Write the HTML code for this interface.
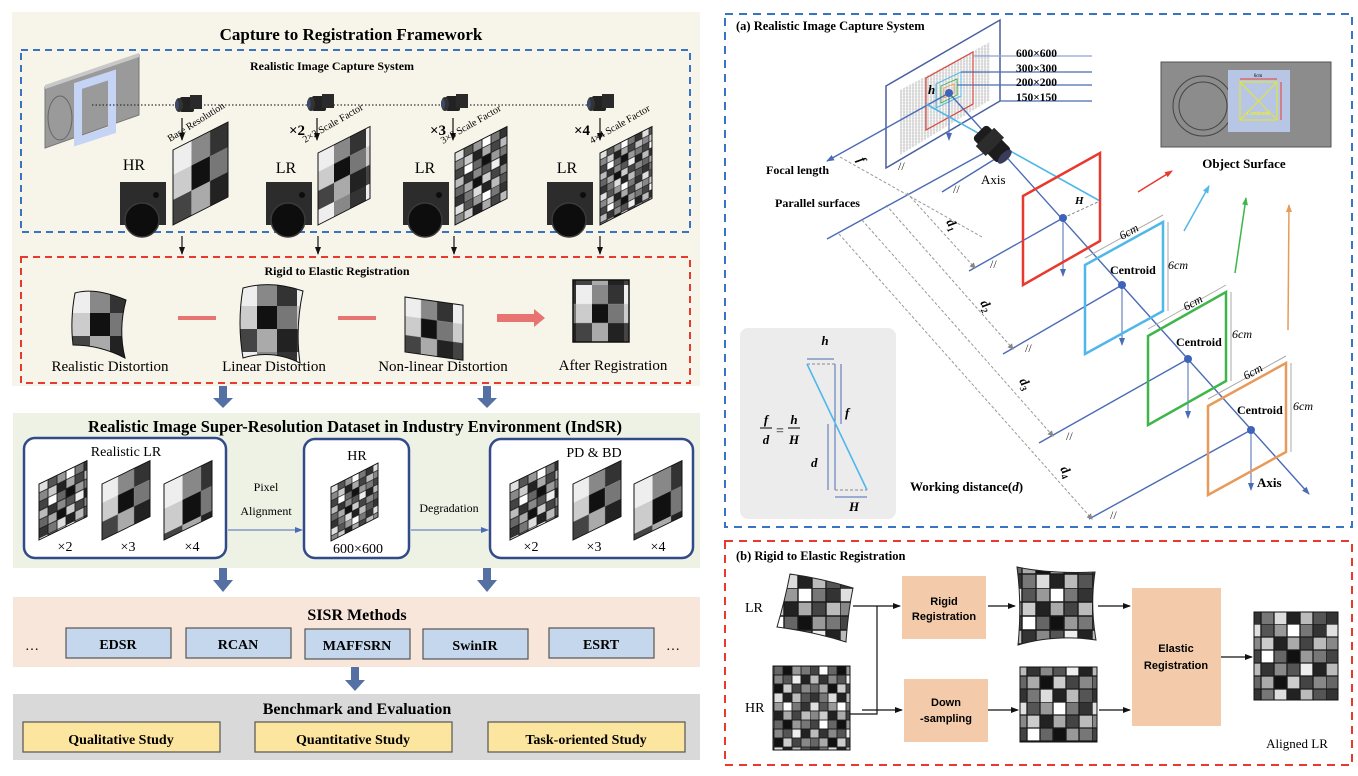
<!DOCTYPE html>
<html><head><meta charset="utf-8"><style>
html,body{margin:0;padding:0;background:#fff}
svg{display:block;font-family:"Liberation Serif",serif}
.b{font-weight:bold}
</style></head><body>
<svg width="1358" height="776" viewBox="0 0 1358 776" xmlns="http://www.w3.org/2000/svg">
<defs>
<g id="t6">
<rect x="0" y="0" width="10" height="10" fill="#e0e0e0"/><rect x="10" y="0" width="10" height="10" fill="#555"/><rect x="20" y="0" width="10" height="10" fill="#999"/><rect x="30" y="0" width="10" height="10" fill="#fff"/><rect x="40" y="0" width="10" height="10" fill="#777"/><rect x="50" y="0" width="10" height="10" fill="#333"/>
<rect x="0" y="10" width="10" height="10" fill="#888"/><rect x="10" y="10" width="10" height="10" fill="#ccc"/><rect x="20" y="10" width="10" height="10" fill="#222"/><rect x="30" y="10" width="10" height="10" fill="#aaa"/><rect x="40" y="10" width="10" height="10" fill="#444"/><rect x="50" y="10" width="10" height="10" fill="#bbb"/>
<rect x="0" y="20" width="10" height="10" fill="#444"/><rect x="10" y="20" width="10" height="10" fill="#fff"/><rect x="20" y="20" width="10" height="10" fill="#666"/><rect x="30" y="20" width="10" height="10" fill="#111"/><rect x="40" y="20" width="10" height="10" fill="#999"/><rect x="50" y="20" width="10" height="10" fill="#777"/>
<rect x="0" y="30" width="10" height="10" fill="#bbb"/><rect x="10" y="30" width="10" height="10" fill="#333"/><rect x="20" y="30" width="10" height="10" fill="#888"/><rect x="30" y="30" width="10" height="10" fill="#555"/><rect x="40" y="30" width="10" height="10" fill="#eee"/><rect x="50" y="30" width="10" height="10" fill="#222"/>
<rect x="0" y="40" width="10" height="10" fill="#666"/><rect x="10" y="40" width="10" height="10" fill="#aaa"/><rect x="20" y="40" width="10" height="10" fill="#111"/><rect x="30" y="40" width="10" height="10" fill="#ccc"/><rect x="40" y="40" width="10" height="10" fill="#444"/><rect x="50" y="40" width="10" height="10" fill="#888"/>
<rect x="0" y="50" width="10" height="10" fill="#333"/><rect x="10" y="50" width="10" height="10" fill="#777"/><rect x="20" y="50" width="10" height="10" fill="#ddd"/><rect x="30" y="50" width="10" height="10" fill="#222"/><rect x="40" y="50" width="10" height="10" fill="#bbb"/><rect x="50" y="50" width="10" height="10" fill="#555"/>
<path d="M0 0V60M10 0V60M20 0V60M30 0V60M40 0V60M50 0V60M0 0H60M0 10H60M0 20H60M0 30H60M0 40H60M0 50H60" stroke="#1a1a1a" stroke-width="1"/>
</g>
<g id="t3">
<rect x="0" y="0" width="10" height="10" fill="#eee"/><rect x="10" y="0" width="10" height="10" fill="#888"/><rect x="20" y="0" width="10" height="10" fill="#333"/>
<rect x="0" y="10" width="10" height="10" fill="#ccc"/><rect x="10" y="10" width="10" height="10" fill="#111"/><rect x="20" y="10" width="10" height="10" fill="#777"/>
<rect x="0" y="20" width="10" height="10" fill="#444"/><rect x="10" y="20" width="10" height="10" fill="#aaa"/><rect x="20" y="20" width="10" height="10" fill="#222"/>
</g>
<pattern id="pf" patternUnits="userSpaceOnUse" width="60" height="60" patternTransform="scale(0.7)"><use href="#t6"/></pattern>
<pattern id="pm" patternUnits="userSpaceOnUse" width="60" height="60" patternTransform="scale(1.3)"><use href="#t6"/></pattern>
<pattern id="pl" patternUnits="userSpaceOnUse" width="60" height="60" patternTransform="scale(1.4)"><use href="#t6"/></pattern>
<pattern id="ps" patternUnits="userSpaceOnUse" width="60" height="60" patternTransform="scale(0.9)"><use href="#t6"/></pattern>
<pattern id="c1" patternUnits="userSpaceOnUse" width="30" height="30" patternTransform="scale(1.85,2.5)"><use href="#t3"/></pattern>
<pattern id="c2" patternUnits="userSpaceOnUse" width="30" height="30" patternTransform="scale(1.6,1.9)"><use href="#t3"/></pattern>
<pattern id="c3" patternUnits="userSpaceOnUse" width="30" height="30" patternTransform="scale(2.0,2.3)"><use href="#t3"/></pattern>
<pattern id="grid" patternUnits="userSpaceOnUse" width="3" height="3"><path d="M1 0V3" stroke="#999" stroke-width="0.6"/><path d="M0 1H3" stroke="#bbb" stroke-width="0.4"/></pattern>
<marker id="ak" markerWidth="8" markerHeight="8" refX="7" refY="4" orient="auto" markerUnits="userSpaceOnUse"><path d="M0 1L8 4L0 7z" fill="#111"/></marker>
<marker id="ab" markerWidth="8" markerHeight="8" refX="7" refY="4" orient="auto" markerUnits="userSpaceOnUse"><path d="M0 1L8 4L0 7z" fill="#4a6bb5"/></marker>
<marker id="ar" markerWidth="8" markerHeight="8" refX="7" refY="4" orient="auto" markerUnits="userSpaceOnUse"><path d="M0 1L8 4L0 7z" fill="#e8392e"/></marker>
<marker id="ac" markerWidth="8" markerHeight="8" refX="7" refY="4" orient="auto" markerUnits="userSpaceOnUse"><path d="M0 1L8 4L0 7z" fill="#4fb7ea"/></marker>
<marker id="ag" markerWidth="8" markerHeight="8" refX="7" refY="4" orient="auto" markerUnits="userSpaceOnUse"><path d="M0 1L8 4L0 7z" fill="#3fb54a"/></marker>
<marker id="ao" markerWidth="8" markerHeight="8" refX="7" refY="4" orient="auto" markerUnits="userSpaceOnUse"><path d="M0 1L8 4L0 7z" fill="#e89a5a"/></marker>
<marker id="ad" markerWidth="6" markerHeight="6" refX="5" refY="3" orient="auto" markerUnits="userSpaceOnUse"><path d="M0 0L6 3L0 6z" fill="#888"/></marker>
<g id="cam"><rect x="-6" y="-8" width="14" height="15" rx="2" fill="#222"/><rect x="4" y="-10" width="12" height="14" fill="#2a2a2a"/><ellipse cx="-7" cy="0" rx="4" ry="7" fill="#333"/><ellipse cx="-9" cy="0" rx="2" ry="5" fill="#3a4a6a"/></g>
<g id="photo"><rect width="46" height="43" fill="#2c2c2c"/><circle cx="22" cy="38" r="17" fill="#0d0d0d" stroke="#3a3a3a" stroke-width="1.5"/><circle cx="36" cy="13" r="3" fill="#0d0d0d"/></g>
</defs>

<!-- LEFT TOP PANEL -->
<rect x="12" y="12" width="688" height="374" fill="#f7f5ea"/>
<text x="351" y="40" font-size="17" class="b" text-anchor="middle">Capture to Registration Framework</text>
<rect x="21" y="50" width="669" height="182" fill="none" stroke="#3b73c4" stroke-width="2" stroke-dasharray="7,5"/>
<text x="332" y="70" font-size="12" class="b" text-anchor="middle">Realistic Image Capture System</text>
<path d="M45 87L139 55V115L45 148Z" fill="#9a9a9a" stroke="#777"/>
<path d="M45 85L139 53V57L45 89Z" fill="#c8c8c8"/>
<path d="M78 86L112 75V130L78 141Z" fill="none" stroke="#c5d4f5" stroke-width="8"/>
<ellipse cx="60" cy="118" rx="12" ry="22" fill="none" stroke="#666"/>
<line x1="92" y1="105" x2="600" y2="105" stroke="#333" stroke-width="1.3" stroke-dasharray="1.5,2"/>
<use href="#cam" x="186" y="105"/><use href="#cam" x="318" y="104"/><use href="#cam" x="452" y="104"/><use href="#cam" x="598" y="104"/>
<g stroke="#111" stroke-width="1.2">
<line x1="182" y1="118" x2="182" y2="140" marker-end="url(#ak)"/>
<line x1="317" y1="118" x2="317" y2="140" marker-end="url(#ak)"/>
<line x1="453" y1="118" x2="453" y2="140" marker-end="url(#ak)"/>
<line x1="600" y1="118" x2="600" y2="140" marker-end="url(#ak)"/>
</g>
<text x="297" y="135" font-size="15" class="b" text-anchor="middle">×2</text>
<text x="438" y="135" font-size="15" class="b" text-anchor="middle">×3</text>
<text x="582" y="135" font-size="15" class="b" text-anchor="middle">×4</text>
<text x="134" y="170" font-size="16" text-anchor="middle">HR</text>
<text x="286" y="173" font-size="16" text-anchor="middle">LR</text>
<text x="425" y="173" font-size="16" text-anchor="middle">LR</text>
<text x="567" y="173" font-size="16" text-anchor="middle">LR</text>
<use href="#photo" x="120" y="182"/><use href="#photo" x="266" y="182"/><use href="#photo" x="403" y="182"/><use href="#photo" x="547" y="182"/>
<g transform="translate(173,150) skewY(-27)"><rect width="55" height="75" fill="url(#c1)" stroke="#111"/></g>
<g transform="translate(318,153) skewY(-27)"><rect width="52" height="72" fill="url(#c2)" stroke="#111"/></g>
<g transform="translate(455,153) skewY(-27)"><rect width="52" height="72" fill="url(#ps)" stroke="#111"/></g>
<g transform="translate(600,153) skewY(-27)"><rect width="52" height="72" fill="url(#pf)" stroke="#111"/></g>
<text transform="translate(170,142) rotate(-32)" font-size="10">Base Resolution</text>
<text transform="translate(305,143) rotate(-30)" font-size="10">2×2  Scale Factor</text>
<text transform="translate(443,144) rotate(-30)" font-size="10">3×3 Scale Factor</text>
<text transform="translate(592,144) rotate(-30)" font-size="10">4×4 Scale Factor</text>
<g stroke="#111" stroke-width="1.2">
<line x1="182" y1="236" x2="182" y2="254" marker-end="url(#ak)"/>
<line x1="318" y1="236" x2="318" y2="254" marker-end="url(#ak)"/>
<line x1="454" y1="236" x2="454" y2="254" marker-end="url(#ak)"/>
<line x1="600" y1="236" x2="600" y2="254" marker-end="url(#ak)"/>
</g>
<rect x="21" y="257" width="669" height="126" fill="none" stroke="#e8392e" stroke-width="2" stroke-dasharray="7,5"/>
<text x="337" y="275" font-size="12" class="b" text-anchor="middle">Rigid to Elastic Registration</text>
<g transform="translate(70,290)"><path d="M5 3Q25 -3 56 10Q48 40 55 68Q30 55 3 55Q0 30 5 3Z" fill="url(#c3)" stroke="#111"/></g>
<g transform="translate(237,283)"><path d="M6 5Q35 -3 66 8Q58 45 63 80Q35 66 6 75Q0 40 6 5Z" fill="url(#c3)" stroke="#111"/></g>
<g transform="translate(405,297) skewY(8)"><rect width="58" height="55" fill="url(#c2)" stroke="#111"/></g>
<rect x="573" y="280" width="56" height="62" fill="url(#c2)" stroke="#111" stroke-width="1.5"/>
<rect x="178" y="316" width="38" height="4" fill="#e77470"/>
<rect x="338" y="316" width="38" height="4" fill="#e77470"/>
<path d="M497 314H534V309L545 318L534 327V322H497Z" fill="#e77470"/>
<text x="110" y="371" font-size="15" text-anchor="middle">Realistic Distortion</text>
<text x="274" y="371" font-size="15" text-anchor="middle">Linear Distortion</text>
<text x="443" y="371" font-size="15" text-anchor="middle">Non-linear Distortion</text>
<text x="613" y="370" font-size="15" text-anchor="middle">After Registration</text>

<g fill="#5570a2">
<path d="M219 386H227V398H233L223 408L213 398H219Z"/>
<path d="M483 386H491V398H497L487 408L477 398H483Z"/>
<path d="M219 568H227V580H233L223 592L213 580H219Z"/>
<path d="M483 568H491V580H497L487 592L477 580H483Z"/>
<path d="M351 667H359V680H365L355 691L345 680H351Z"/>
</g>

<!-- DATASET PANEL -->
<rect x="13" y="413" width="687" height="155" fill="#edf2e5"/>
<text x="355" y="432" font-size="16.5" class="b" text-anchor="middle">Realistic Image Super-Resolution Dataset in Industry Environment (IndSR)</text>
<rect x="24" y="438" width="202" height="120" rx="11" fill="#fff" stroke="#324a8a" stroke-width="2.5"/>
<rect x="304" y="439" width="105" height="119" rx="11" fill="#fff" stroke="#324a8a" stroke-width="2.5"/>
<rect x="490" y="439" width="203" height="119" rx="11" fill="#fff" stroke="#324a8a" stroke-width="2.5"/>
<text x="126" y="456" font-size="14" text-anchor="middle">Realistic LR</text>
<text x="357" y="460" font-size="14" text-anchor="middle">HR</text>
<text x="594" y="457" font-size="14" text-anchor="middle">PD &amp; BD</text>
<g transform="translate(39,484) skewY(-26)"><rect width="48" height="56" fill="url(#ps)" stroke="#111"/></g>
<g transform="translate(102,484) skewY(-26)"><rect width="48" height="56" fill="url(#c2)" stroke="#111"/></g>
<g transform="translate(164,484) skewY(-26)"><rect width="48" height="56" fill="url(#c1)" stroke="#111"/></g>
<g transform="translate(331,487) skewY(-27)"><rect width="47" height="54" fill="url(#pf)" stroke="#111"/></g>
<g transform="translate(510,484) skewY(-26)"><rect width="48" height="56" fill="url(#ps)" stroke="#111"/></g>
<g transform="translate(573,484) skewY(-26)"><rect width="48" height="56" fill="url(#c2)" stroke="#111"/></g>
<g transform="translate(634,484) skewY(-26)"><rect width="48" height="56" fill="url(#c1)" stroke="#111"/></g>
<g font-size="14" text-anchor="middle">
<text x="65" y="551">×2</text><text x="128" y="551">×3</text><text x="192" y="551">×4</text>
<text x="358" y="553">600×600</text>
<text x="531" y="551">×2</text><text x="594" y="551">×3</text><text x="658" y="551">×4</text>
</g>
<g font-size="12" text-anchor="middle"><text x="266" y="491">Pixel</text><text x="266" y="515">Alignment</text><text x="449" y="512">Degradation</text></g>
<line x1="228" y1="530" x2="302" y2="530" stroke="#4a6bb5" marker-end="url(#ab)"/>
<line x1="411" y1="530" x2="488" y2="530" stroke="#4a6bb5" marker-end="url(#ab)"/>

<!-- SISR -->
<rect x="13" y="597" width="687" height="70" fill="#f8e6da"/>
<text x="357" y="620" font-size="16" class="b" text-anchor="middle">SISR Methods</text>
<g fill="#c5d7ec" stroke="#555" stroke-width="1.2">
<rect x="66" y="628" width="105" height="30"/><rect x="186" y="628" width="105" height="30"/><rect x="305" y="629" width="105" height="30"/><rect x="423" y="629" width="105" height="30"/><rect x="549" y="628" width="105" height="30"/>
</g>
<g font-size="14" class="b" text-anchor="middle">
<text x="118" y="649">EDSR</text><text x="238" y="649">RCAN</text><text x="357" y="650">MAFFSRN</text><text x="475" y="650">SwinIR</text><text x="601" y="649">ESRT</text>
</g>
<text x="32" y="650" font-size="14" text-anchor="middle">…</text><text x="673" y="650" font-size="14" text-anchor="middle">…</text>

<!-- BENCHMARK -->
<rect x="13" y="694" width="687" height="66" fill="#d9d9d9"/>
<text x="357" y="714" font-size="16" class="b" text-anchor="middle">Benchmark and Evaluation</text>
<g fill="#fbe59f" stroke="#555" stroke-width="1.2">
<rect x="23" y="722" width="197" height="30"/><rect x="255" y="722" width="197" height="30"/><rect x="488" y="722" width="197" height="30"/>
</g>
<g font-size="14" class="b" text-anchor="middle">
<text x="121" y="744">Qualitative Study</text><text x="353" y="744">Quantitative Study</text><text x="586" y="744">Task-oriented Study</text>
</g>

<!-- RIGHT (a) -->
<rect x="725" y="14" width="627" height="513" fill="none" stroke="#3b73c4" stroke-width="2" stroke-dasharray="8,6"/>
<text x="736" y="30" font-size="12.5" class="b">(a) Realistic Image Capture System</text>
<path d="M886 86L1000 20V101L886 168Z" fill="#fff" stroke="#4a5f9f" stroke-width="1.5"/>
<path d="M900 90L990 42V100L900 155Z" fill="url(#grid)"/>
<path d="M926 78L973 52V104L926 130Z" fill="none" stroke="#d9453a" stroke-width="1.2"/>
<path d="M936 84L961 72V96L936 108Z" fill="none" stroke="#4fb7ea" stroke-width="1"/>
<path d="M941 86L957 79V95L941 103Z" fill="none" stroke="#3fb54a" stroke-width="0.9"/>
<path d="M944 88L954 84V93L944 98Z" fill="none" stroke="#e89a5a" stroke-width="0.8"/>
<g stroke="#4a6bb5" stroke-width="1.2">
<line x1="973" y1="56" x2="1092" y2="56" stroke="#8fa3d0"/>
<line x1="961" y1="72" x2="1092" y2="72"/>
<line x1="957" y1="85" x2="1092" y2="85"/>
<line x1="1000" y1="101" x2="1092" y2="101"/>
</g>
<g font-size="11.5" class="b"><text x="1016" y="57">600×600</text><text x="1016" y="72">300×300</text><text x="1016" y="86">200×200</text><text x="1016" y="101">150×150</text></g>
<text x="928" y="94" font-size="13" class="b" font-style="italic">h</text>
<g stroke="#4a6bb5" stroke-width="1.4" fill="none">
<line x1="949" y1="93" x2="827" y2="161" marker-end="url(#ab)"/>
<line x1="827" y1="239" x2="1004" y2="142"/>
<line x1="942" y1="192" x2="995" y2="159"/>
<line x1="949" y1="93" x2="1309" y2="494" marker-end="url(#ab)"/>
<line x1="969" y1="271" x2="1063" y2="218"/>
<line x1="1003" y1="354" x2="1122" y2="285"/>
<line x1="1039" y1="443" x2="1188" y2="359"/>
<line x1="1089" y1="519" x2="1251" y2="430"/>
<line x1="949" y1="93" x2="949" y2="140" stroke-width="1" marker-end="url(#ab)"/>
<line x1="1063" y1="218" x2="1063" y2="276" stroke-width="1" marker-end="url(#ab)"/>
<line x1="1122" y1="285" x2="1122" y2="345" stroke-width="1" marker-end="url(#ab)"/>
<line x1="1188" y1="359" x2="1188" y2="418" stroke-width="1" marker-end="url(#ab)"/>
<line x1="1251" y1="430" x2="1251" y2="490" stroke-width="1" marker-end="url(#ab)"/>
</g>
<line x1="926" y1="104" x2="1100" y2="201" stroke="#4fb7ea" stroke-width="1.6"/>
<line x1="1063" y1="218" x2="1100" y2="201" stroke="#888" stroke-dasharray="3,2"/>
<g transform="translate(992,144) rotate(45)"><rect x="-18" y="-10" width="36" height="20" rx="4" fill="#1c1c1c"/><rect x="-10" y="-13" width="14" height="26" fill="#2c2c2c"/><ellipse cx="18" cy="0" rx="4" ry="9" fill="#3a3a5a"/></g>
<path d="M1023 196L1100 153V241L1023 285Z" fill="none" stroke="#e8392e" stroke-width="2.5"/>
<path d="M1085 265L1163 222V311L1085 354Z" fill="none" stroke="#4fb7ea" stroke-width="2.5"/>
<path d="M1148 336L1226 292V381L1148 425Z" fill="none" stroke="#3fb54a" stroke-width="2.5"/>
<path d="M1208 406L1286 363V452L1208 495Z" fill="none" stroke="#e89a5a" stroke-width="2.5"/>
<g fill="#3f63b8"><circle cx="1063" cy="218" r="4"/><circle cx="1122" cy="285" r="4"/><circle cx="1188" cy="359" r="4"/><circle cx="1251" cy="430" r="4"/><circle cx="949" cy="93" r="4"/></g>
<g stroke="#aaa" stroke-width="1">
<line x1="1085" y1="258" x2="1163" y2="215"/><line x1="1168" y1="222" x2="1168" y2="311"/>
<line x1="1148" y1="329" x2="1226" y2="285"/><line x1="1231" y1="292" x2="1231" y2="381"/>
<line x1="1208" y1="399" x2="1286" y2="356"/><line x1="1291" y1="363" x2="1291" y2="452"/>
</g>
<g font-size="12" font-style="italic">
<text transform="translate(1122,240) rotate(-29)">6cm</text><text x="1168" y="269">6cm</text>
<text transform="translate(1186,311) rotate(-29)">6cm</text><text x="1232" y="338">6cm</text>
<text transform="translate(1246,380) rotate(-29)">6cm</text><text x="1293" y="410">6cm</text>
</g>
<g font-size="12" class="b"><text x="1110" y="274">Centroid</text><text x="1176" y="346">Centroid</text><text x="1237" y="414">Centroid</text></g>
<text x="1075" y="204" font-size="11" class="b" font-style="italic">H</text>
<g stroke="#999" stroke-width="1" stroke-dasharray="3,2" fill="none">
<line x1="840" y1="157" x2="982" y2="237"/>
<line x1="907" y1="193" x2="975" y2="268" marker-end="url(#ad)"/>
<line x1="886" y1="205" x2="1013" y2="349" marker-end="url(#ad)"/>
<line x1="862" y1="220" x2="1053" y2="436" marker-end="url(#ad)"/>
<line x1="839" y1="234" x2="1092" y2="519" marker-end="url(#ad)"/>
</g>
<g font-size="13" class="b" font-style="italic">
<text transform="translate(857,160) rotate(60)">f</text>
<text transform="translate(946,222) rotate(60)">d<tspan font-size="9" dy="3">1</tspan></text>
<text transform="translate(980,303) rotate(60)">d<tspan font-size="9" dy="3">2</tspan></text>
<text transform="translate(1019,381) rotate(60)">d<tspan font-size="9" dy="3">3</tspan></text>
<text transform="translate(1060,469) rotate(60)">d<tspan font-size="9" dy="3">4</tspan></text>
</g>
<g font-size="12" fill="#222"><text x="898" y="170">//</text><text x="953" y="193">//</text><text x="990" y="268">//</text><text x="1025" y="352">//</text><text x="1066" y="440">//</text><text x="1110" y="519">//</text></g>
<text x="766" y="174" font-size="12" class="b">Focal length</text>
<text x="775" y="207" font-size="12" class="b">Parallel surfaces</text>
<text x="981" y="184" font-size="13">Axis</text>
<text x="1257" y="487" font-size="13" class="b">Axis</text>
<text x="910" y="491" font-size="13" class="b">Working distance(<tspan font-style="italic">d</tspan>)</text>
<rect x="1161" y="62" width="170" height="85" fill="#8c8c8c" stroke="#555"/>
<circle cx="1203" cy="106" r="30" fill="none" stroke="#444"/>
<circle cx="1203" cy="106" r="24" fill="none" stroke="#444"/>
<rect x="1228" y="70" width="62" height="62" fill="#b8c6e6"/>
<g stroke="#e8e820" stroke-width="1"><line x1="1240" y1="82" x2="1277" y2="120"/><line x1="1277" y1="82" x2="1240" y2="120"/><path d="M1240 82H1277V120H1240Z" fill="none"/></g>
<line x1="1240" y1="79" x2="1277" y2="79" stroke="#e8392e"/><line x1="1281" y1="82" x2="1281" y2="120" stroke="#e8392e"/>
<text x="1258" y="115" font-size="6" fill="#ee2" text-anchor="middle" class="b">Centroid</text>
<text x="1258" y="77" font-size="5" text-anchor="middle">6cm</text>
<text x="1244" y="168" font-size="13" class="b" text-anchor="middle">Object Surface</text>
<line x1="1138" y1="192" x2="1172" y2="171" stroke="#e8392e" stroke-width="1.5" marker-end="url(#ar)"/>
<line x1="1184" y1="231" x2="1209" y2="186" stroke="#4fb7ea" stroke-width="1.5" marker-end="url(#ac)"/>
<line x1="1235" y1="273" x2="1246" y2="198" stroke="#3fb54a" stroke-width="1.5" marker-end="url(#ag)"/>
<line x1="1288" y1="330" x2="1289" y2="205" stroke="#e89a5a" stroke-width="1.5" marker-end="url(#ao)"/>
<rect x="740" y="328" width="156" height="191" rx="8" fill="#ececec"/>
<text x="825" y="345" font-size="13" class="b" font-style="italic" text-anchor="middle">h</text>
<g stroke="#4a6bb5" stroke-width="1"><line x1="807" y1="359" x2="834" y2="359"/><line x1="835" y1="364" x2="835" y2="490"/><line x1="841" y1="364" x2="841" y2="424"/><line x1="828" y1="424" x2="828" y2="490"/><line x1="835" y1="497" x2="867" y2="497"/></g>
<g stroke="#888" stroke-dasharray="3,2"><line x1="807" y1="364" x2="835" y2="364"/><line x1="835" y1="490" x2="867" y2="490"/></g>
<line x1="807" y1="364" x2="867" y2="490" stroke="#4fb7ea" stroke-width="1.6"/>
<text x="845" y="417" font-size="13" class="b" font-style="italic">f</text>
<text x="811" y="467" font-size="13" class="b" font-style="italic">d</text>
<text x="854" y="511" font-size="13" class="b" font-style="italic" text-anchor="middle">H</text>
<g font-size="13" class="b" font-style="italic" text-anchor="middle"><text x="766" y="424">f</text><text x="766" y="444">d</text><text x="794" y="424">h</text><text x="794" y="444">H</text></g>
<line x1="760" y1="428" x2="772" y2="428" stroke="#000"/><line x1="788" y1="428" x2="800" y2="428" stroke="#000"/>
<text x="780" y="435" font-size="14" text-anchor="middle">=</text>

<!-- RIGHT (b) -->
<rect x="725" y="541" width="627" height="224" fill="none" stroke="#e8392e" stroke-width="2" stroke-dasharray="8,6"/>
<text x="736" y="560" font-size="12.5" class="b">(b) Rigid to Elastic Registration</text>
<text x="745" y="612" font-size="14">LR</text>
<text x="745" y="712" font-size="14">HR</text>
<path d="M790 574Q820 578 853 588Q848 612 846 642Q815 632 777 627Q785 600 790 574Z" fill="url(#pl)" stroke="#222"/>
<rect x="773" y="666" width="77" height="84" fill="url(#ps)" stroke="#111"/>
<path d="M1017 567Q1050 574 1095 572Q1090 605 1096 640Q1055 634 1018 645Q1022 605 1017 567Z" fill="url(#pl)" stroke="#222"/>
<rect x="1020" y="667" width="77" height="75" fill="url(#pm)" stroke="#111"/>
<rect x="1254" y="612" width="84" height="88" fill="url(#pm)" stroke="#111"/>
<rect x="902" y="576" width="84" height="63" fill="#f3cbaa"/>
<rect x="904" y="679" width="84" height="63" fill="#f3cbaa"/>
<rect x="1132" y="588" width="89" height="138" fill="#f3cbaa"/>
<g font-size="11" class="b" text-anchor="middle" font-family="Liberation Sans,sans-serif">
<text x="944" y="605">Rigid</text><text x="944" y="620">Registration</text>
<text x="946" y="706">Down</text><text x="946" y="722">-sampling</text>
<text x="1176" y="652">Elastic</text><text x="1176" y="669">Registration</text>
</g>
<text x="1297" y="748" font-size="13" text-anchor="middle">Aligned LR</text>
<g stroke="#111" stroke-width="1.2" fill="none">
<line x1="853" y1="606" x2="900" y2="606" marker-end="url(#ak)"/>
<path d="M850 714H877V606"/>
<line x1="862" y1="710" x2="902" y2="710" marker-end="url(#ak)"/>
<line x1="988" y1="606" x2="1015" y2="606" marker-end="url(#ak)"/>
<line x1="1098" y1="606" x2="1130" y2="606" marker-end="url(#ak)"/>
<line x1="988" y1="710" x2="1018" y2="710" marker-end="url(#ak)"/>
<line x1="1099" y1="710" x2="1130" y2="710" marker-end="url(#ak)"/>
<line x1="1221" y1="657" x2="1252" y2="657" marker-end="url(#ak)"/>
</g>
</svg>
</body></html>
